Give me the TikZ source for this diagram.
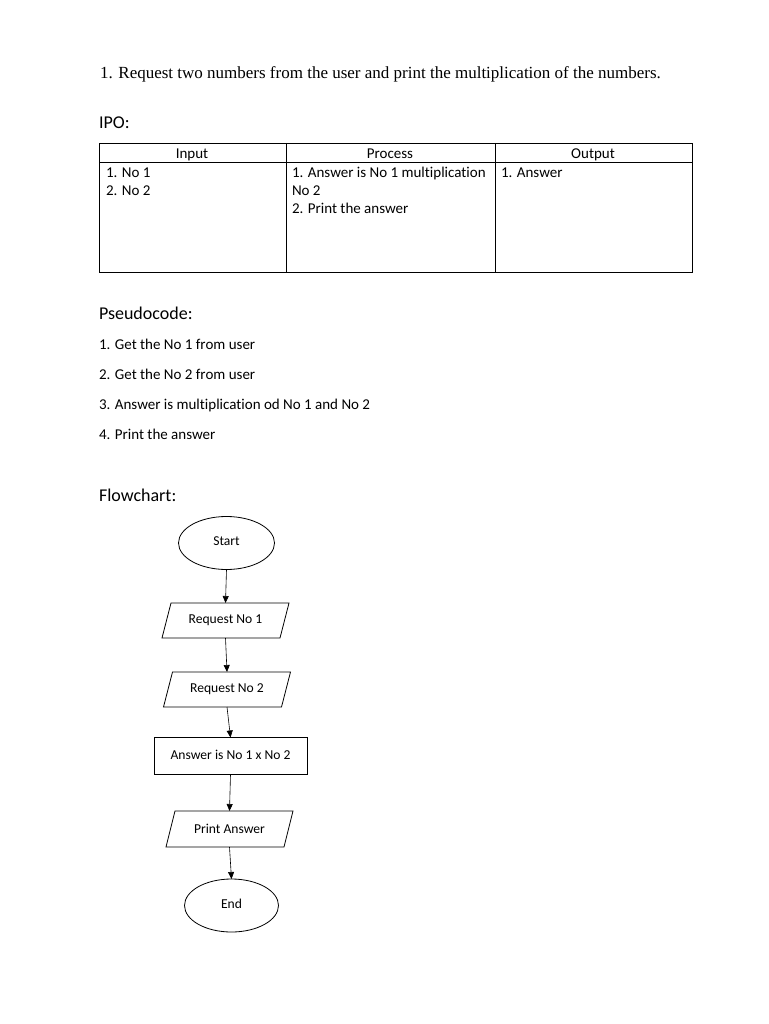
\documentclass[tikz,border=0pt]{standalone}
\usepackage{fontspec}
\setmainfont{Carlito}[Ligatures=NoCommon]
\newfontfamily\titlefont{Liberation Serif}
\usetikzlibrary{shapes.geometric,arrows.meta}
\begin{document}
\begin{tikzpicture}[x=1pt,y=-1pt,
  every node/.style={inner sep=0pt,outer sep=0pt},
  lab/.style={anchor=base west,font=\fontsize{15}{17}\selectfont},
  head/.style={anchor=base west,font=\fontsize{18}{21}\selectfont},
  hcell/.style={anchor=base,font=\fontsize{15}{17}\selectfont},
  term/.style={draw,ellipse,line width=0.8pt,font=\fontsize{13.6}{16}\selectfont},
  io/.style={rectangle,minimum height=35pt,minimum width=118pt,font=\fontsize{13.6}{16}\selectfont},
  procbox/.style={draw,rectangle,line width=0.8pt,font=\fontsize{13.6}{16}\selectfont},
  edge/.style={line width=0.8pt,line join=miter},
  flow/.style={line width=0.6pt,-{Triangle[length=7pt,width=6pt]}}]
\useasboundingbox[fill=white] (0,0) rectangle (768,1024);
% title
\node[anchor=base west,font=\titlefont\fontsize{17}{20}\selectfont] (title) at (100,79) {1. Request two numbers from the user and print the multiplication of the numbers.};
\node[head] (ipo) at (99,129) {IPO:};
% table
\draw[line width=0.8pt] (99,143) rectangle (692,272);
\draw[line width=0.8pt] (99,162) -- (692,162);
\draw[line width=0.8pt] (286,143) -- (286,272);
\draw[line width=0.8pt] (495,143) -- (495,272);
\node[hcell] (hin) at (192,158.5) {Input};
\node[hcell] (hpr) at (390,158.5) {Process};
\node[hcell] (hout) at (593,158.5) {Output};
\node[lab] (in1) at (106,177.5) {1. No 1};
\node[lab] (in2) at (106,195.5) {2. No 2};
\node[lab] (pr1) at (292,177.5) {1. Answer is No 1 multiplication};
\node[lab] (pr2) at (292,195.5) {No 2};
\node[lab] (pr3) at (292,213.5) {2. Print the answer};
\node[lab] (out1) at (501,177.5) {1. Answer};
% pseudocode
\node[head] (pseudo) at (99,319) {Pseudocode:};
\node[lab] (ps1) at (99,349) {1. Get the No 1 from user};
\node[lab] (ps2) at (99,379) {2. Get the No 2 from user};
\node[lab] (ps3) at (99,409) {3. Answer is multiplication od No 1 and No 2};
\node[lab] (ps4) at (99,439) {4. Print the answer};
% flowchart
\node[head] (fc) at (99,501) {Flowchart:};
\node[term,minimum width=96pt,minimum height=53pt] (start) at (226.5,543) {\raisebox{3pt}{Start}};
\node[io] (r1) at (225.5,620.5) {Request No 1};
\node[io] (r2) at (227,689.5) {Request No 2};
\node[procbox,minimum width=153pt,minimum height=37pt] (proc) at (230.5,756) {\raisebox{3pt}{Answer is No 1 x No 2}};
\node[io,minimum height=36pt] (pa) at (229.5,829) {Print Answer};
\node[term,minimum width=94pt,minimum height=53pt] (end) at (231.5,905.5) {\raisebox{3pt}{End}};
\foreach \n in {r1,r2,pa}{
  \draw[edge] ([xshift=4.5pt]\n.north west) -- ([xshift=4.5pt]\n.north east) -- ([xshift=-4.5pt]\n.south east) -- ([xshift=-4.5pt]\n.south west) -- cycle;
}
\draw[flow] (start.south) -- (r1.north);
\draw[flow] (r1.south) -- (r2.north);
\draw[flow] (r2.south) -- (proc.north);
\draw[flow] (proc.south) -- (pa.north);
\draw[flow] (pa.south) -- (end.north);
\end{tikzpicture}
\end{document}
